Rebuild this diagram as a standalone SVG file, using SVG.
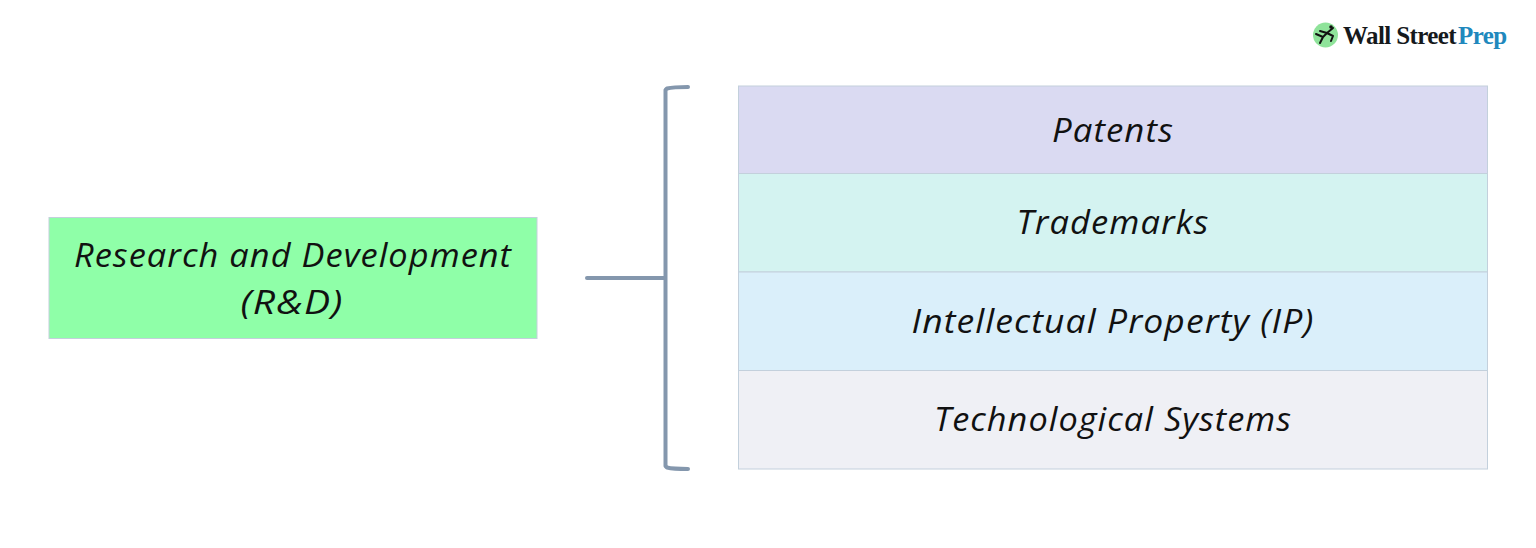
<svg xmlns="http://www.w3.org/2000/svg" width="1536" height="548" viewBox="0 0 1536 548">
<style>
.box{stroke:#c3d0dc;stroke-width:1}
.t{font-family:"Open Sans","Noto Sans","DejaVu Sans",sans-serif;font-style:italic;font-size:33px;fill:#111;text-anchor:middle;letter-spacing:1px}
.br{fill:none;stroke:#8497ad;stroke-width:4;stroke-linecap:round;stroke-linejoin:round}
.logo{font-family:"Liberation Serif",serif;font-weight:700;font-size:25px;letter-spacing:-.6px}
</style>
<rect width="1536" height="548" fill="#fff"/>
<g id="connectors">
<path class="br" d="M587 278H665"/>
<path class="br" d="M688 87Q673 87 667 88.500L665.500 90V466L667 467.500Q673 469 688 469"/>
</g>
<g id="node-rd">
<rect class="box" x="49" y="217.500" width="488" height="121" fill="#8fffa8" stroke="#c0e0c8"/>
<text class="t" x="293" y="267" textLength="438" lengthAdjust="spacingAndGlyphs">Research and Development</text>
<text class="t" x="292" y="314" textLength="103" lengthAdjust="spacingAndGlyphs">(R&amp;D)</text>
</g>
<g id="node-patents">
<rect class="box" x="738.500" y="86" width="749" height="87.500" fill="#dadaf2"/>
<text class="t" x="1113" y="142" textLength="122" lengthAdjust="spacingAndGlyphs">Patents</text>
</g>
<g id="node-trademarks">
<rect class="box" x="738.500" y="173.500" width="749" height="98.500" fill="#d4f3f1"/>
<text class="t" x="1113" y="234" textLength="193" lengthAdjust="spacingAndGlyphs">Trademarks</text>
</g>
<g id="node-ip">
<rect class="box" x="738.500" y="272" width="749" height="98.500" fill="#daeffa"/>
<text class="t" x="1113" y="333" textLength="403" lengthAdjust="spacingAndGlyphs">Intellectual Property (IP)</text>
</g>
<g id="node-tech">
<rect class="box" x="738.500" y="370.500" width="749" height="98.500" fill="#eff0f5"/>
<text class="t" x="1113" y="431" textLength="358" lengthAdjust="spacingAndGlyphs">Technological Systems</text>
</g>
<g id="logo">
<circle cx="1325.500" cy="35" r="12.500" fill="#8fe39a"/>
<path d="M1320 43L1323 37L1327 33L1333 28M1327 33L1333 36L1331 41M1323 37L1316 34M1327 33L1320 31" fill="none" stroke="#111" stroke-width="2" stroke-linecap="round" stroke-linejoin="round"/>
<circle cx="1331" cy="27" r="1.800" fill="#111"/>
<text class="logo" x="1343" y="43.500" fill="#15191c">Wall Street</text>
<text class="logo" x="1458" y="43.500" fill="#2088bd">Prep</text>
</g>
</svg>
